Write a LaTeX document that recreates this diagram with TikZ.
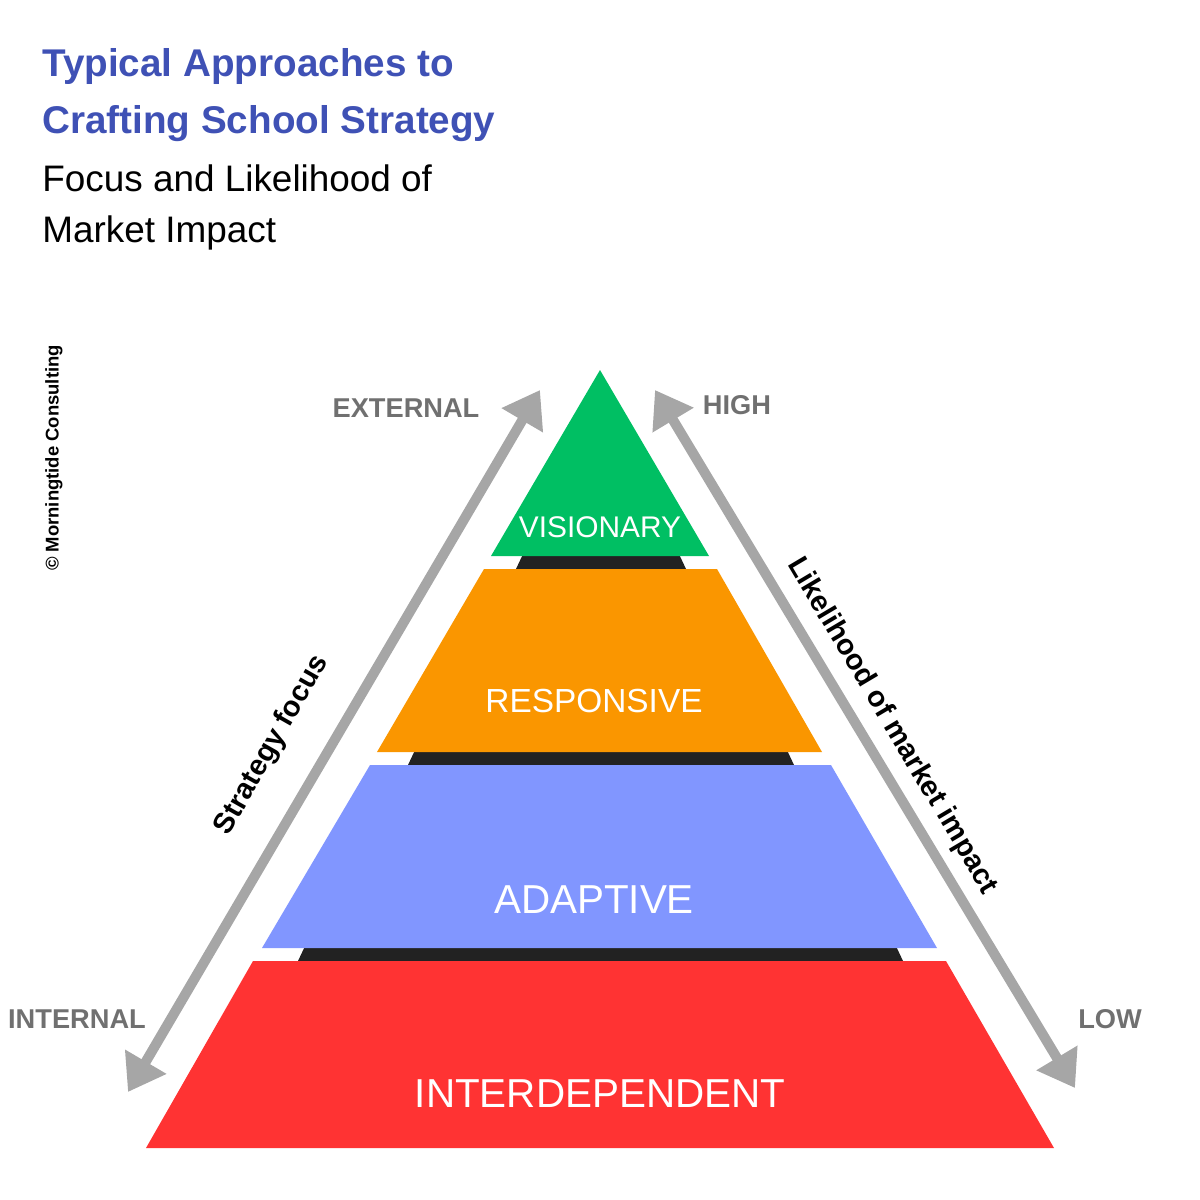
\documentclass[tikz,border=0pt]{standalone}
\usepackage{fontspec}
\setmainfont{Liberation Sans}
\usetikzlibrary{arrows.meta,positioning}
\definecolor{titleblue}{HTML}{3F51B5}
\definecolor{tipgreen}{HTML}{00BF63}
\definecolor{midorange}{HTML}{FA9600}
\definecolor{lowblue}{HTML}{8196FF}
\definecolor{basered}{HTML}{FF3333}
\definecolor{bandgray}{HTML}{222222}
\definecolor{axisgray}{HTML}{A6A6A6}
\definecolor{endgray}{HTML}{707070}
\begin{document}
\begin{tikzpicture}
[x=0.02cm, y=-0.02cm,
layer/.style={white, font=\fontsize{#1}{#1}\selectfont},
band/.style={fill=bandgray},
axis/.style={draw=axisgray, line width=5.7pt, {Triangle[width=26pt,length=20pt]}-{Triangle[width=26pt,length=20pt]}},
endlabel/.style={text=endgray, font=\fontsize{15.5}{17}\selectfont\bfseries},
sidelabel/.style={font=\fontsize{16.5}{19}\selectfont\bfseries}
]
  \useasboundingbox (0,0) rectangle (1200,1200);
  % titles
  \node[anchor=north west, align=left, text=titleblue, inner sep=0pt,
    font=\fontsize{22}{32.5}\selectfont\bfseries] (title) at (42,48)
    {Typical Approaches to\\Crafting School Strategy};
  \node[anchor=north west, align=left, inner sep=0pt,
    font=\fontsize{21}{29.5}\selectfont] (subtitle) at (42,164)
    {Focus and Likelihood of\\Market Impact};
  \node[rotate=90, font=\fontsize{10.5}{12}\selectfont\bfseries] (copy) at (54,458)
    {© Morningtide Consulting};

  % bands between layers
  \fill[band] (524,552) -- (678,552) -- (686,569) -- (516,569) -- cycle;
  \fill[band] (416,748) -- (786,748) -- (794,765) -- (408,765) -- cycle;
  \fill[band] (306,944) -- (895,944) -- (903,961) -- (298,961) -- cycle;

  % layers
  \fill[tipgreen] (600,370) -- (709,556) -- (491,556) -- cycle;
  \fill[midorange] (484,569) -- (717,569) -- (822,752) -- (377,752) -- cycle;
  \fill[lowblue] (370,765) -- (831,765) -- (937,948) -- (262,948) -- cycle;
  \fill[basered] (253,961) -- (946,961) -- (1054,1148) -- (146,1148) -- cycle;

  \node[layer=17] (visionary) at (600,527) {VISIONARY};
  \node[layer=19] (responsive) at (594,701) {RESPONSIVE};
  \node[layer=23] (adaptive) at (594,900) {ADAPTIVE};
  \node[layer=23] (interdependent) at (600,1094) {INTERDEPENDENT};

  % axes
  \coordinate (inlow) at (128,1092);
  \coordinate (exthigh) at (540,390);
  \coordinate (imphigh) at (655,390);
  \coordinate (implow) at (1075,1088);
  \draw[axis] (inlow) -- (exthigh);
  \draw[axis] (imphigh) -- (implow);

  \node[endlabel] (external) at (406,408) {EXTERNAL};
  \node[endlabel] (high) at (737,405) {HIGH};
  \node[endlabel] (internal) at (77,1019) {INTERNAL};
  \node[endlabel] (low) at (1110,1019) {LOW};
  \node[sidelabel, rotate=60.4] (focus) at (272,745) {Strategy focus};
  \node[sidelabel, rotate=-59.3] (impact) at (892,726) {Likelihood of market impact};
\end{tikzpicture}
\end{document}
